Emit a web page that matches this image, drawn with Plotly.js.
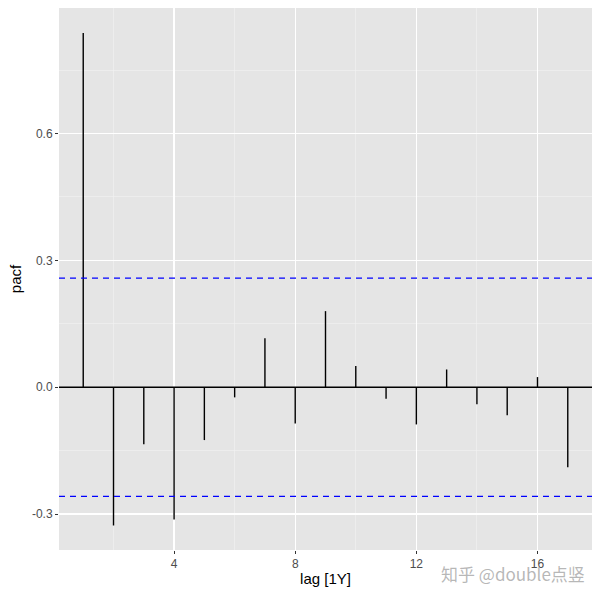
<!DOCTYPE html>
<html>
<head>
<meta charset="utf-8">
<script src="https://cdn.plot.ly/plotly-3.0.1.min.js"></script>
<style>html,body{margin:0;padding:0;background:#fff;}</style>
</head>
<body>
<div id="chart" style="width:600px;height:599px;"></div>
<script>
const lags = [1,2,3,4,5,6,7,8,9,10,11,12,13,14,15,16,17];
const pacf = [0.838,-0.327,-0.135,-0.313,-0.125,-0.024,0.116,-0.086,0.180,0.050,-0.027,-0.088,0.042,-0.040,-0.066,0.024,-0.189];
const ciBound = 0.258;
const xTicks = [4,8,12,16];
const yTicks = [-0.3,0.0,0.3,0.6];
const yTickLabels = ['-0.3','0.0','0.3','0.6'];

const segX = [], segY = [];
lags.forEach((l,i)=>{ segX.push(l,l,null); segY.push(0,pacf[i],null); });

const traces = [{
  type:'scatter', mode:'lines', x:segX, y:segY,
  line:{color:'black', width:1.4}, hoverinfo:'skip', showlegend:false
}];

const layout = {
  width:600, height:599,
  margin:{l:59, r:8, t:8, b:49},
  paper_bgcolor:'white', plot_bgcolor:'#e5e5e5',
  font:{family:'Liberation Sans, Arial, sans-serif'},
  showlegend:false,
  xaxis:{
    range:[0.2,17.8], tickvals:xTicks, ticktext:xTicks.map(String),
    showgrid:true, gridcolor:'white', gridwidth:1.2, zeroline:false,
    ticks:'outside', ticklen:3, tickwidth:1, tickcolor:'#333333',
    tickfont:{size:12, color:'#4d4d4d'},
    minor:{tickvals:[2,6,10,14], showgrid:true, gridcolor:'#f2f2f2', gridwidth:0.6, ticks:''},
    title:{text:'lag [1Y]', font:{size:15, color:'black'}, standoff:3},
    showline:false
  },
  yaxis:{
    range:[-0.385,0.897], tickvals:yTicks, ticktext:yTickLabels,
    showgrid:true, gridcolor:'white', gridwidth:1.2, zeroline:false,
    ticks:'outside', ticklen:3, tickwidth:1, tickcolor:'#333333',
    tickfont:{size:12, color:'#4d4d4d'},
    minor:{tickvals:[-0.15,0.15,0.45,0.75], showgrid:true, gridcolor:'#f2f2f2', gridwidth:0.6, ticks:''},
    title:{text:'pacf', font:{size:15, color:'black'}, standoff:6},
    showline:false
  },
  shapes:[
    {type:'line', xref:'paper', x0:0, x1:1, yref:'y', y0:0, y1:0, line:{color:'black', width:1.4}, layer:'above'},
    {type:'line', xref:'paper', x0:0, x1:1, yref:'y', y0:ciBound, y1:ciBound, line:{color:'#0000ff', width:1.3, dash:'6px,5px'}, layer:'above'},
    {type:'line', xref:'paper', x0:0, x1:1, yref:'y', y0:-ciBound, y1:-ciBound, line:{color:'#0000ff', width:1.3, dash:'6px,5px'}, layer:'above'}
  ],
  annotations:[{
    text:'知乎 @double点竖', xref:'paper', yref:'paper', x:0.99, y:-0.044,
    xanchor:'right', yanchor:'middle', showarrow:false,
    font:{family:'Noto Sans CJK SC, sans-serif', size:17, color:'rgba(160,160,160,0.75)'}
  }]
};

Plotly.newPlot('chart', traces, layout, {staticPlot:true, displayModeBar:false});
</script>
</body>
</html>
